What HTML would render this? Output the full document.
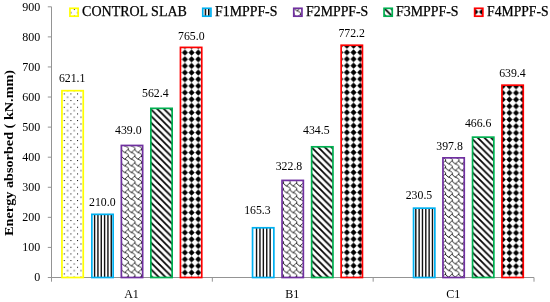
<!DOCTYPE html>
<html><head><meta charset="utf-8"><title>Energy absorbed</title>
<style>
html,body{margin:0;padding:0;background:#fff;overflow:hidden;}
svg{display:block;font-family:"Liberation Serif","DejaVu Serif",serif;}
</style></head><body>
<svg width="550" height="302" viewBox="0 0 550 302">
<defs>
<pattern id="p00" width="6.6667" height="6.6667" patternUnits="userSpaceOnUse" patternTransform="translate(3.75,0.10)"><rect width="6.6667" height="6.6667" fill="#fff"/><rect x="0" y="0" width="1.0" height="1.0" fill="#000"/><rect x="3.333" y="3.333" width="1.0" height="1.0" fill="#000"/></pattern>
<pattern id="p01" width="3.3333" height="8" patternUnits="userSpaceOnUse" patternTransform="translate(0.47,0.00)"><rect width="3.3333" height="8" fill="#fff"/><rect x="0" y="0" width="1.5" height="8" fill="#000"/></pattern>
<pattern id="p02" width="6.6667" height="6.6667" patternUnits="userSpaceOnUse" patternTransform="translate(2.06,2.80)"><rect width="6.6667" height="6.6667" fill="#fff"/><g transform="scale(0.83333)" fill="none" stroke="#000" stroke-linejoin="round" stroke-linecap="round"><path d="M-7.5,-6.5 L-5.5,-4.5 L-4.5,-4.5 L-3.5,-3.5 L-2.5,-3.5 L-0.5,-1.5 L-0.5,0.5 L0.5,1.5 M-7.5,1.5 L-5.5,3.5 L-4.5,3.5 L-3.5,4.5 L-2.5,4.5 L-0.5,6.5 L-0.5,8.5 L0.5,9.5 M-7.5,9.5 L-5.5,11.5 L-4.5,11.5 L-3.5,12.5 L-2.5,12.5 L-0.5,14.5 L-0.5,16.5 L0.5,17.5 M0.5,-6.5 L2.5,-4.5 L3.5,-4.5 L4.5,-3.5 L5.5,-3.5 L7.5,-1.5 L7.5,0.5 L8.5,1.5 M0.5,1.5 L2.5,3.5 L3.5,3.5 L4.5,4.5 L5.5,4.5 L7.5,6.5 L7.5,8.5 L8.5,9.5 M0.5,9.5 L2.5,11.5 L3.5,11.5 L4.5,12.5 L5.5,12.5 L7.5,14.5 L7.5,16.5 L8.5,17.5 M8.5,-6.5 L10.5,-4.5 L11.5,-4.5 L12.5,-3.5 L13.5,-3.5 L15.5,-1.5 L15.5,0.5 L16.5,1.5 M8.5,1.5 L10.5,3.5 L11.5,3.5 L12.5,4.5 L13.5,4.5 L15.5,6.5 L15.5,8.5 L16.5,9.5 M8.5,9.5 L10.5,11.5 L11.5,11.5 L12.5,12.5 L13.5,12.5 L15.5,14.5 L15.5,16.5 L16.5,17.5 " stroke-width="1.0"/><path d="M-0.5,0.5 L-1.5,0.5 L-4.5,3.5 M-0.5,8.5 L-1.5,8.5 L-4.5,11.5 M-0.5,16.5 L-1.5,16.5 L-4.5,19.5 M7.5,0.5 L6.5,0.5 L3.5,3.5 M7.5,8.5 L6.5,8.5 L3.5,11.5 M7.5,16.5 L6.5,16.5 L3.5,19.5 M15.5,0.5 L14.5,0.5 L11.5,3.5 M15.5,8.5 L14.5,8.5 L11.5,11.5 M15.5,16.5 L14.5,16.5 L11.5,19.5 " stroke-width="1.0"/></g></pattern>
<pattern id="p03" width="6.6667" height="6.6667" patternUnits="userSpaceOnUse" patternTransform="translate(0.00,4.97)"><rect width="6.6667" height="6.6667" fill="#fff"/><path d="M-1,-1 L7.6667,7.6667 M-1,5.6667 L1,7.6667 M5.6667,-1 L7.6667,1" stroke="#000" stroke-width="1.75" fill="none"/></pattern>
<pattern id="p04" width="6.6667" height="6.6667" patternUnits="userSpaceOnUse" patternTransform="translate(1.60,2.60)"><rect width="6.6667" height="6.6667" fill="#fff"/><path d="M3.33335,0.28335 L6.38335,3.33335 L3.33335,6.38335 L0.28335,3.33335 Z" fill="#000"/></pattern>
<pattern id="p11" width="3.3333" height="8" patternUnits="userSpaceOnUse" patternTransform="translate(2.47,0.00)"><rect width="3.3333" height="8" fill="#fff"/><rect x="0" y="0" width="1.5" height="8" fill="#000"/></pattern>
<pattern id="p12" width="6.6667" height="6.6667" patternUnits="userSpaceOnUse" patternTransform="translate(3.87,2.95)"><rect width="6.6667" height="6.6667" fill="#fff"/><g transform="scale(0.83333)" fill="none" stroke="#000" stroke-linejoin="round" stroke-linecap="round"><path d="M-7.5,-6.5 L-5.5,-4.5 L-4.5,-4.5 L-3.5,-3.5 L-2.5,-3.5 L-0.5,-1.5 L-0.5,0.5 L0.5,1.5 M-7.5,1.5 L-5.5,3.5 L-4.5,3.5 L-3.5,4.5 L-2.5,4.5 L-0.5,6.5 L-0.5,8.5 L0.5,9.5 M-7.5,9.5 L-5.5,11.5 L-4.5,11.5 L-3.5,12.5 L-2.5,12.5 L-0.5,14.5 L-0.5,16.5 L0.5,17.5 M0.5,-6.5 L2.5,-4.5 L3.5,-4.5 L4.5,-3.5 L5.5,-3.5 L7.5,-1.5 L7.5,0.5 L8.5,1.5 M0.5,1.5 L2.5,3.5 L3.5,3.5 L4.5,4.5 L5.5,4.5 L7.5,6.5 L7.5,8.5 L8.5,9.5 M0.5,9.5 L2.5,11.5 L3.5,11.5 L4.5,12.5 L5.5,12.5 L7.5,14.5 L7.5,16.5 L8.5,17.5 M8.5,-6.5 L10.5,-4.5 L11.5,-4.5 L12.5,-3.5 L13.5,-3.5 L15.5,-1.5 L15.5,0.5 L16.5,1.5 M8.5,1.5 L10.5,3.5 L11.5,3.5 L12.5,4.5 L13.5,4.5 L15.5,6.5 L15.5,8.5 L16.5,9.5 M8.5,9.5 L10.5,11.5 L11.5,11.5 L12.5,12.5 L13.5,12.5 L15.5,14.5 L15.5,16.5 L16.5,17.5 " stroke-width="1.0"/><path d="M-0.5,0.5 L-1.5,0.5 L-4.5,3.5 M-0.5,8.5 L-1.5,8.5 L-4.5,11.5 M-0.5,16.5 L-1.5,16.5 L-4.5,19.5 M7.5,0.5 L6.5,0.5 L3.5,3.5 M7.5,8.5 L6.5,8.5 L3.5,11.5 M7.5,16.5 L6.5,16.5 L3.5,19.5 M15.5,0.5 L14.5,0.5 L11.5,3.5 M15.5,8.5 L14.5,8.5 L11.5,11.5 M15.5,16.5 L14.5,16.5 L11.5,19.5 " stroke-width="1.0"/></g></pattern>
<pattern id="p13" width="6.6667" height="6.6667" patternUnits="userSpaceOnUse" patternTransform="translate(0.00,2.41)"><rect width="6.6667" height="6.6667" fill="#fff"/><path d="M-1,-1 L7.6667,7.6667 M-1,5.6667 L1,7.6667 M5.6667,-1 L7.6667,1" stroke="#000" stroke-width="1.75" fill="none"/></pattern>
<pattern id="p14" width="6.6667" height="6.6667" patternUnits="userSpaceOnUse" patternTransform="translate(-3.10,2.40)"><rect width="6.6667" height="6.6667" fill="#fff"/><path d="M3.33335,0.28335 L6.38335,3.33335 L3.33335,6.38335 L0.28335,3.33335 Z" fill="#000"/></pattern>
<pattern id="p21" width="3.3333" height="8" patternUnits="userSpaceOnUse" patternTransform="translate(1.67,0.00)"><rect width="3.3333" height="8" fill="#fff"/><rect x="0" y="0" width="1.5" height="8" fill="#000"/></pattern>
<pattern id="p22" width="6.6667" height="6.6667" patternUnits="userSpaceOnUse" patternTransform="translate(6.06,0.80)"><rect width="6.6667" height="6.6667" fill="#fff"/><g transform="scale(0.83333)" fill="none" stroke="#000" stroke-linejoin="round" stroke-linecap="round"><path d="M-7.5,-6.5 L-5.5,-4.5 L-4.5,-4.5 L-3.5,-3.5 L-2.5,-3.5 L-0.5,-1.5 L-0.5,0.5 L0.5,1.5 M-7.5,1.5 L-5.5,3.5 L-4.5,3.5 L-3.5,4.5 L-2.5,4.5 L-0.5,6.5 L-0.5,8.5 L0.5,9.5 M-7.5,9.5 L-5.5,11.5 L-4.5,11.5 L-3.5,12.5 L-2.5,12.5 L-0.5,14.5 L-0.5,16.5 L0.5,17.5 M0.5,-6.5 L2.5,-4.5 L3.5,-4.5 L4.5,-3.5 L5.5,-3.5 L7.5,-1.5 L7.5,0.5 L8.5,1.5 M0.5,1.5 L2.5,3.5 L3.5,3.5 L4.5,4.5 L5.5,4.5 L7.5,6.5 L7.5,8.5 L8.5,9.5 M0.5,9.5 L2.5,11.5 L3.5,11.5 L4.5,12.5 L5.5,12.5 L7.5,14.5 L7.5,16.5 L8.5,17.5 M8.5,-6.5 L10.5,-4.5 L11.5,-4.5 L12.5,-3.5 L13.5,-3.5 L15.5,-1.5 L15.5,0.5 L16.5,1.5 M8.5,1.5 L10.5,3.5 L11.5,3.5 L12.5,4.5 L13.5,4.5 L15.5,6.5 L15.5,8.5 L16.5,9.5 M8.5,9.5 L10.5,11.5 L11.5,11.5 L12.5,12.5 L13.5,12.5 L15.5,14.5 L15.5,16.5 L16.5,17.5 " stroke-width="1.0"/><path d="M-0.5,0.5 L-1.5,0.5 L-4.5,3.5 M-0.5,8.5 L-1.5,8.5 L-4.5,11.5 M-0.5,16.5 L-1.5,16.5 L-4.5,19.5 M7.5,0.5 L6.5,0.5 L3.5,3.5 M7.5,8.5 L6.5,8.5 L3.5,11.5 M7.5,16.5 L6.5,16.5 L3.5,19.5 M15.5,0.5 L14.5,0.5 L11.5,3.5 M15.5,8.5 L14.5,8.5 L11.5,11.5 M15.5,16.5 L14.5,16.5 L11.5,19.5 " stroke-width="1.0"/></g></pattern>
<pattern id="p23" width="6.6667" height="6.6667" patternUnits="userSpaceOnUse" patternTransform="translate(0.00,0.00)"><rect width="6.6667" height="6.6667" fill="#fff"/><path d="M-1,-1 L7.6667,7.6667 M-1,5.6667 L1,7.6667 M5.6667,-1 L7.6667,1" stroke="#000" stroke-width="1.75" fill="none"/></pattern>
<pattern id="p24" width="6.6667" height="6.6667" patternUnits="userSpaceOnUse" patternTransform="translate(-0.60,2.90)"><rect width="6.6667" height="6.6667" fill="#fff"/><path d="M3.33335,0.28335 L6.38335,3.33335 L3.33335,6.38335 L0.28335,3.33335 Z" fill="#000"/></pattern>
<pattern id="pl0" width="6.6667" height="6.6667" patternUnits="userSpaceOnUse" patternTransform="translate(0.50,2.20)"><rect width="6.6667" height="6.6667" fill="#fff"/><rect x="0" y="0" width="1.0" height="1.0" fill="#000"/><rect x="3.333" y="3.333" width="1.0" height="1.0" fill="#000"/></pattern>
<pattern id="pl1" width="3.3333" height="8" patternUnits="userSpaceOnUse" patternTransform="translate(1.32,0.00)"><rect width="3.3333" height="8" fill="#fff"/><rect x="0" y="0" width="1.5" height="8" fill="#000"/></pattern>
<pattern id="pl2" width="6.6667" height="6.6667" patternUnits="userSpaceOnUse" patternTransform="translate(1.15,1.08)"><rect width="6.6667" height="6.6667" fill="#fff"/><g transform="scale(0.83333)" fill="none" stroke="#000" stroke-linejoin="round" stroke-linecap="round"><path d="M-7.5,-6.5 L-5.5,-4.5 L-4.5,-4.5 L-3.5,-3.5 L-2.5,-3.5 L-0.5,-1.5 L-0.5,0.5 L0.5,1.5 M-7.5,1.5 L-5.5,3.5 L-4.5,3.5 L-3.5,4.5 L-2.5,4.5 L-0.5,6.5 L-0.5,8.5 L0.5,9.5 M-7.5,9.5 L-5.5,11.5 L-4.5,11.5 L-3.5,12.5 L-2.5,12.5 L-0.5,14.5 L-0.5,16.5 L0.5,17.5 M0.5,-6.5 L2.5,-4.5 L3.5,-4.5 L4.5,-3.5 L5.5,-3.5 L7.5,-1.5 L7.5,0.5 L8.5,1.5 M0.5,1.5 L2.5,3.5 L3.5,3.5 L4.5,4.5 L5.5,4.5 L7.5,6.5 L7.5,8.5 L8.5,9.5 M0.5,9.5 L2.5,11.5 L3.5,11.5 L4.5,12.5 L5.5,12.5 L7.5,14.5 L7.5,16.5 L8.5,17.5 M8.5,-6.5 L10.5,-4.5 L11.5,-4.5 L12.5,-3.5 L13.5,-3.5 L15.5,-1.5 L15.5,0.5 L16.5,1.5 M8.5,1.5 L10.5,3.5 L11.5,3.5 L12.5,4.5 L13.5,4.5 L15.5,6.5 L15.5,8.5 L16.5,9.5 M8.5,9.5 L10.5,11.5 L11.5,11.5 L12.5,12.5 L13.5,12.5 L15.5,14.5 L15.5,16.5 L16.5,17.5 " stroke-width="1.0"/><path d="M-0.5,0.5 L-1.5,0.5 L-4.5,3.5 M-0.5,8.5 L-1.5,8.5 L-4.5,11.5 M-0.5,16.5 L-1.5,16.5 L-4.5,19.5 M7.5,0.5 L6.5,0.5 L3.5,3.5 M7.5,8.5 L6.5,8.5 L3.5,11.5 M7.5,16.5 L6.5,16.5 L3.5,19.5 M15.5,0.5 L14.5,0.5 L11.5,3.5 M15.5,8.5 L14.5,8.5 L11.5,11.5 M15.5,16.5 L14.5,16.5 L11.5,19.5 " stroke-width="1.0"/></g></pattern>
<pattern id="pl3" width="6.6667" height="6.6667" patternUnits="userSpaceOnUse" patternTransform="translate(0.00,4.00)"><rect width="6.6667" height="6.6667" fill="#fff"/><path d="M-1,-1 L7.6667,7.6667 M-1,5.6667 L1,7.6667 M5.6667,-1 L7.6667,1" stroke="#000" stroke-width="1.75" fill="none"/></pattern>
<pattern id="pl4" width="6.6667" height="6.6667" patternUnits="userSpaceOnUse" patternTransform="translate(-1.37,1.90)"><rect width="6.6667" height="6.6667" fill="#fff"/><path d="M3.33335,0.28335 L6.38335,3.33335 L3.33335,6.38335 L0.28335,3.33335 Z" fill="#000"/></pattern>
</defs>
<rect width="550" height="302" fill="#fff"/>
<path d="M51.5,6.8 V281.7" stroke="#949494" stroke-width="1" fill="none"/>
<path d="M47.8,277.5 H534.0" stroke="#949494" stroke-width="1" fill="none"/>
<rect x="61.95" y="90.69" width="21.30" height="186.81" fill="url(#p00)" stroke="#ffff00" stroke-width="1.7"/>
<text x="72.20" y="82.20" font-size="11.8" text-anchor="middle" fill="#000">621.1</text>
<rect x="91.85" y="214.34" width="21.30" height="63.16" fill="#fff"/>
<path d="M94.60,214.34 V277.5 M97.93,214.34 V277.5 M101.27,214.34 V277.5 M104.60,214.34 V277.5 M107.93,214.34 V277.5 M111.26,214.34 V277.5" stroke="#111" stroke-width="1.4" fill="none"/>
<rect x="91.85" y="214.34" width="21.30" height="63.16" fill="none" stroke="#00b0f0" stroke-width="1.7"/>
<text x="102.30" y="205.80" font-size="11.8" text-anchor="middle" fill="#000">210.0</text>
<rect x="121.35" y="145.46" width="21.30" height="132.04" fill="url(#p02)" stroke="#7030a0" stroke-width="1.7"/>
<text x="128.30" y="133.80" font-size="11.8" text-anchor="middle" fill="#000">439.0</text>
<rect x="150.85" y="108.34" width="21.30" height="169.16" fill="url(#p03)" stroke="#00b050" stroke-width="1.7"/>
<text x="155.30" y="96.70" font-size="11.8" text-anchor="middle" fill="#000">562.4</text>
<rect x="180.45" y="47.40" width="21.30" height="230.10" fill="url(#p04)" stroke="#ff0000" stroke-width="1.7"/>
<text x="191.30" y="39.50" font-size="11.8" text-anchor="middle" fill="#000">765.0</text>
<rect x="252.55" y="227.78" width="21.30" height="49.72" fill="#fff"/>
<path d="M256.55,227.78 V277.5 M259.95,227.78 V277.5 M263.35,227.78 V277.5 M266.75,227.78 V277.5 M270.15,227.78 V277.5" stroke="#111" stroke-width="1.4" fill="none"/>
<rect x="252.55" y="227.78" width="21.30" height="49.72" fill="none" stroke="#00b0f0" stroke-width="1.7"/>
<text x="257.40" y="213.60" font-size="11.8" text-anchor="middle" fill="#000">165.3</text>
<rect x="282.05" y="180.41" width="21.30" height="97.09" fill="url(#p12)" stroke="#7030a0" stroke-width="1.7"/>
<text x="289.00" y="169.80" font-size="11.8" text-anchor="middle" fill="#000">322.8</text>
<rect x="311.65" y="146.81" width="21.30" height="130.69" fill="url(#p13)" stroke="#00b050" stroke-width="1.7"/>
<text x="316.30" y="134.10" font-size="11.8" text-anchor="middle" fill="#000">434.5</text>
<rect x="341.15" y="45.24" width="21.30" height="232.26" fill="url(#p14)" stroke="#ff0000" stroke-width="1.7"/>
<text x="351.70" y="36.70" font-size="11.8" text-anchor="middle" fill="#000">772.2</text>
<rect x="413.55" y="208.17" width="21.30" height="69.33" fill="#fff"/>
<path d="M415.80,208.17 V277.5 M419.13,208.17 V277.5 M422.47,208.17 V277.5 M425.80,208.17 V277.5 M429.13,208.17 V277.5 M432.47,208.17 V277.5" stroke="#111" stroke-width="1.4" fill="none"/>
<rect x="413.55" y="208.17" width="21.30" height="69.33" fill="none" stroke="#00b0f0" stroke-width="1.7"/>
<text x="419.00" y="198.60" font-size="11.8" text-anchor="middle" fill="#000">230.5</text>
<rect x="442.95" y="157.85" width="21.30" height="119.65" fill="url(#p22)" stroke="#7030a0" stroke-width="1.7"/>
<text x="449.60" y="149.60" font-size="11.8" text-anchor="middle" fill="#000">397.8</text>
<rect x="472.55" y="137.16" width="21.30" height="140.34" fill="url(#p23)" stroke="#00b050" stroke-width="1.7"/>
<text x="478.20" y="126.60" font-size="11.8" text-anchor="middle" fill="#000">466.6</text>
<rect x="501.95" y="85.18" width="21.30" height="192.32" fill="url(#p24)" stroke="#ff0000" stroke-width="1.7"/>
<text x="512.40" y="76.70" font-size="11.8" text-anchor="middle" fill="#000">639.4</text>
<rect x="69.95" y="8.3" width="8.2" height="7.9" fill="url(#pl0)" stroke="#ffff00" stroke-width="1.7"/>
<text x="82.1" y="16.2" font-size="14" fill="#000" stroke="#000" stroke-width="0.25" textLength="104.8" lengthAdjust="spacingAndGlyphs">CONTROL SLAB</text>
<rect x="202.75" y="8.3" width="8.2" height="7.9" fill="url(#pl1)" stroke="#00b0f0" stroke-width="1.7"/>
<text x="215.1" y="16.2" font-size="14" fill="#000" stroke="#000" stroke-width="0.25" textLength="62.3" lengthAdjust="spacingAndGlyphs">F1MPPF-S</text>
<rect x="293.75" y="8.3" width="8.2" height="7.9" fill="url(#pl2)" stroke="#7030a0" stroke-width="1.7"/>
<text x="306.1" y="16.2" font-size="14" fill="#000" stroke="#000" stroke-width="0.25" textLength="62.199999999999996" lengthAdjust="spacingAndGlyphs">F2MPPF-S</text>
<rect x="384.05" y="8.3" width="8.2" height="7.9" fill="url(#pl3)" stroke="#00b050" stroke-width="1.7"/>
<text x="396.1" y="16.2" font-size="14" fill="#000" stroke="#000" stroke-width="0.25" textLength="62.5" lengthAdjust="spacingAndGlyphs">F3MPPF-S</text>
<rect x="474.65" y="8.3" width="8.2" height="7.9" fill="url(#pl4)" stroke="#ff0000" stroke-width="1.7"/>
<text x="487.1" y="16.2" font-size="14" fill="#000" stroke="#000" stroke-width="0.25" textLength="61.5" lengthAdjust="spacingAndGlyphs">F4MPPF-S</text>
<text x="40.3" y="281.30" font-size="12" text-anchor="end" fill="#000">0</text>
<path d="M47.8,247.42 H51.5" stroke="#949494" stroke-width="1"/>
<text x="40.3" y="251.22" font-size="12" text-anchor="end" fill="#000">100</text>
<path d="M47.8,217.34 H51.5" stroke="#949494" stroke-width="1"/>
<text x="40.3" y="221.14" font-size="12" text-anchor="end" fill="#000">200</text>
<path d="M47.8,187.27 H51.5" stroke="#949494" stroke-width="1"/>
<text x="40.3" y="191.07" font-size="12" text-anchor="end" fill="#000">300</text>
<path d="M47.8,157.19 H51.5" stroke="#949494" stroke-width="1"/>
<text x="40.3" y="160.99" font-size="12" text-anchor="end" fill="#000">400</text>
<path d="M47.8,127.11 H51.5" stroke="#949494" stroke-width="1"/>
<text x="40.3" y="130.91" font-size="12" text-anchor="end" fill="#000">500</text>
<path d="M47.8,97.03 H51.5" stroke="#949494" stroke-width="1"/>
<text x="40.3" y="100.83" font-size="12" text-anchor="end" fill="#000">600</text>
<path d="M47.8,66.95 H51.5" stroke="#949494" stroke-width="1"/>
<text x="40.3" y="70.75" font-size="12" text-anchor="end" fill="#000">700</text>
<path d="M47.8,36.88 H51.5" stroke="#949494" stroke-width="1"/>
<text x="40.3" y="40.68" font-size="12" text-anchor="end" fill="#000">800</text>
<path d="M47.8,6.80 H51.5" stroke="#949494" stroke-width="1"/>
<text x="40.3" y="10.60" font-size="12" text-anchor="end" fill="#000">900</text>
<path d="M212.33,277.5 V281.7" stroke="#949494" stroke-width="1"/>
<path d="M373.17,277.5 V281.7" stroke="#949494" stroke-width="1"/>
<path d="M534.00,277.5 V281.7" stroke="#949494" stroke-width="1"/>
<text x="131.52" y="297.6" font-size="12" text-anchor="middle" fill="#000">A1</text>
<text x="292.35" y="297.6" font-size="12" text-anchor="middle" fill="#000">B1</text>
<text x="453.18" y="297.6" font-size="12" text-anchor="middle" fill="#000">C1</text>
<text transform="translate(13.3,152.9) rotate(-90)" font-size="12" font-weight="bold" text-anchor="middle" fill="#000" textLength="166" lengthAdjust="spacingAndGlyphs">Energy absorbed ( kN.mm)</text>
</svg></body></html>
